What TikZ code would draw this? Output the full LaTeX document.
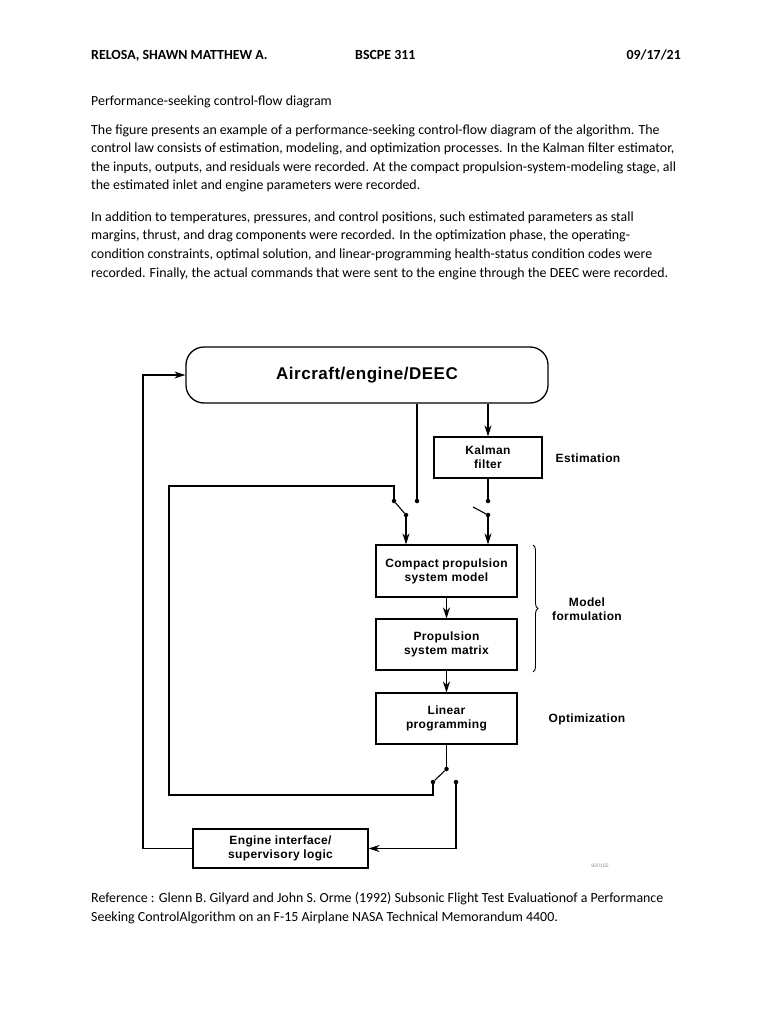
\documentclass[tikz,border=0pt]{standalone}
\usepackage{fontspec}
\setmainfont{Carlito}
\newfontfamily\diagfont[LetterSpace=3]{Liberation Sans}
\usetikzlibrary{arrows.meta,decorations.pathreplacing}
\begin{document}
\begin{tikzpicture}[x=1pt,y=-1pt,
  txt/.style={inner sep=0pt,anchor=base west,font=\fontsize{13.9}{16}\selectfont},
  hdr/.style={inner sep=0pt,anchor=base west,font=\fontsize{13.9}{16}\selectfont\bfseries},
  blk/.style={draw,line width=1.1pt,inner sep=0pt,align=center,font=\diagfont\bfseries\fontsize{12}{14}\selectfont},
  lab/.style={inner sep=0pt,align=center,font=\diagfont\bfseries\fontsize{12}{14}\selectfont},
  wire/.style={line width=1.1pt},
  arr/.style={line width=1.1pt,-{Stealth[length=11pt,width=7pt]}},
  sdot/.style={circle,fill,inner sep=0pt,minimum size=4.5pt}]
\path[use as bounding box,fill=white] (0,0) rectangle (768,1024);

% header
\node[hdr] (h1) at (91,59.5) {RELOSA, SHAWN MATTHEW A.};
\node[hdr] (h2) at (355,59.5) {BSCPE 311};
\node[hdr,anchor=base east] (h3) at (681,59.5) {09/17/21};

\node[txt] (t0) at (91,105.5) {Performance-seeking control-flow diagram};
\node[txt] (p1) at (91,134.5) {The figure presents an example of a performance-seeking control-flow diagram of the algorithm. The};
\node[txt] (p2) at (91,153) {control law consists of estimation, modeling, and optimization processes. In the Kalman filter estimator,};
\node[txt] (p3) at (91,171.5) {the inputs, outputs, and residuals were recorded. At the compact propulsion-system-modeling stage, all};
\node[txt] (p4) at (91,190) {the estimated inlet and engine parameters were recorded.};
\node[txt] (q1) at (91,221.5) {In addition to temperatures, pressures, and control positions, such estimated parameters as stall};
\node[txt] (q2) at (91,240) {margins, thrust, and drag components were recorded. In the optimization phase, the operating-};
\node[txt] (q3) at (91,258.5) {condition constraints, optimal solution, and linear-programming health-status condition codes were};
\node[txt] (q4) at (91,277) {recorded. Finally, the actual commands that were sent to the engine through the DEEC were recorded.};

\node[txt] (r1) at (91,902.5) {Reference : Glenn B. Gilyard and John S. Orme (1992) Subsonic Flight Test Evaluationof a Performance};
\node[txt] (r2) at (91,921) {Seeking ControlAlgorithm on an F-15 Airplane NASA Technical Memorandum 4400.};

% diagram blocks
\node[draw,line width=1.3pt,rounded corners=18pt,minimum width=362pt,minimum height=56pt,inner sep=0pt,
  font=\diagfont\bfseries\fontsize{17}{20}\selectfont] (ac) at (367,375) {Aircraft/engine/DEEC};
\node[blk,minimum width=108pt,minimum height=41pt] (kal) at (488,457.5) {Kalman\\filter};
\node[blk,minimum width=141pt,minimum height=52pt] (cps) at (446.5,571) {Compact propulsion\\system model};
\node[blk,minimum width=141pt,minimum height=51pt] (psm) at (446.5,644.5) {Propulsion\\system matrix};
\node[blk,minimum width=141pt,minimum height=51pt] (lp) at (446.5,718.5) {Linear\\programming};
\node[blk,minimum width=175pt,minimum height=39pt] (eng) at (280.5,848.5) {Engine interface/\\supervisory logic};

\node[lab] (est) at (588,458) {Estimation};
\node[lab] (mod) at (587,609) {Model\\formulation};
\node[lab] (opt) at (587,719) {Optimization};
\node[inner sep=0pt,text=black!45,font=\diagfont\fontsize{5}{6}\selectfont] (num) at (600,866) {920162};

% switch terminals
\node[sdot] (d1) at (394,501) {};
\node[sdot] (d2) at (406,515) {};
\node[sdot] (dD) at (417,501) {};
\node[sdot] (d3) at (488,501) {};
\node[sdot] (d4) at (488,515) {};
\node[sdot] (d5) at (446.5,769) {};
\node[sdot] (d6) at (433,782) {};
\node[sdot] (d7) at (456,782) {};
\coordinate (bladeR) at (473,507);
\coordinate (loopTL) at (169,486);
\coordinate (loopBL) at (169,795);
\coordinate (fbX) at (143,0);

% connectors
\draw[arr] (ac.south -| kal.north) -- (kal.north);
\draw[wire] (kal.south) -- (d3);
\draw[wire] (ac.south -| dD) -- (dD);
\draw[wire] (d4) -- (bladeR);
\draw[arr] (d4) -- (d4 |- cps.north);
\draw[wire] (d1) -- (d2);
\draw[arr] (d2) -- (d2 |- cps.north);
\draw[arr] (cps.south) -- (psm.north);
\draw[arr] (psm.south) -- (lp.north);
\draw[wire] (lp.south) -- (d5);
\draw[wire] (d5) -- (d6);
\draw[wire] (d6) -- (d6 |- loopBL) -- (loopBL) -- (loopTL) -- (d1 |- loopTL) -- (d1);
\draw[arr] (d7) |- (eng.east);
\draw[arr] (eng.west) -| (fbX |- ac.west) -- (ac.west);

% brace
\draw[line width=0.9pt,decorate,decoration={brace,amplitude=5pt}] (533,545) -- (533,672);
\end{tikzpicture}
\end{document}
